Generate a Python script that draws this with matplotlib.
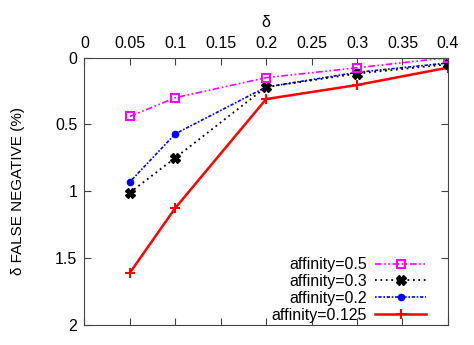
import matplotlib
matplotlib.use('Agg')
import matplotlib.pyplot as plt

plt.rcParams['font.family'] = ['Liberation Sans', 'DejaVu Sans']

delta = [0.05, 0.1, 0.2, 0.3, 0.4]
fn_0125 = [1.61, 1.125, 0.31, 0.205, 0.075]
fn_02 = [0.93, 0.57, 0.22, 0.11, 0.04]
fn_03 = [1.01, 0.75, 0.22, 0.12, 0.05]
fn_05 = [0.44, 0.30, 0.15, 0.076, 0.0]

xticks = [0, 0.05, 0.1, 0.15, 0.2, 0.25, 0.3, 0.35, 0.4]
xticklabels = ['0', '0.05', '0.1', '0.15', '0.2', '0.25', '0.3', '0.35', '0.4']
yticks = [0, 0.5, 1, 1.5, 2]
yticklabels = ['0', '0.5', '1', '1.5', '2']

fig = plt.figure(figsize=(4.74, 3.45), dpi=100)
ax = fig.add_axes([0.178, 0.058, 0.767, 0.775])

l1, = ax.plot(delta, fn_0125, color='#ff0000', lw=1.8, ls='-',
              marker='+', ms=7, mew=1.5, label='affinity=0.125')
l2, = ax.plot(delta, fn_02, color='#0000ff', lw=1.2, ls=(0, (1, 1, 2, 1)),
              marker='o', ms=4.5, label='affinity=0.2')
l3, = ax.plot(delta, fn_03, color='black', lw=1.3, ls=(0, (1, 2)),
              marker='X', ms=6.5, label='affinity=0.3')
l4, = ax.plot(delta, fn_05, color='#ff00ff', lw=1.2, ls=(0, (4, 1.5, 1, 1.5, 1, 1.5)),
              marker='s', ms=6, mfc='none', mew=1.5, label='affinity=0.5')

ax.set_xlim(0, 0.4)
ax.set_ylim(2, 0)
ax.set_xticks(xticks)
ax.set_xticklabels(xticklabels)
ax.set_yticks(yticks)
ax.set_yticklabels(yticklabels)
ax.xaxis.set_ticks_position('both')
ax.xaxis.set_label_position('top')
ax.tick_params(axis='x', labeltop=True, labelbottom=False)
ax.yaxis.set_ticks_position('both')
ax.tick_params(direction='in', length=5, width=0.8, labelsize=11.5, color='#444444', pad=5)
for s in ax.spines.values():
    s.set_color('#444444')
    s.set_linewidth(0.8)

ax.set_xlabel('δ', fontsize=11.5, labelpad=6)
ax.set_ylabel('δ FALSE NEGATIVE (%)', fontsize=11, labelpad=22)

ax.legend([l4, l3, l2, l1], [l4.get_label(), l3.get_label(), l2.get_label(), l1.get_label()],
          loc='lower right', bbox_to_anchor=(0.975, -0.04), frameon=False,
          markerfirst=False, fontsize=11.5, handlelength=3.2, labelspacing=0.12,
          handletextpad=0.5, borderpad=0.3)

fig.savefig('out.png', dpi=100)
